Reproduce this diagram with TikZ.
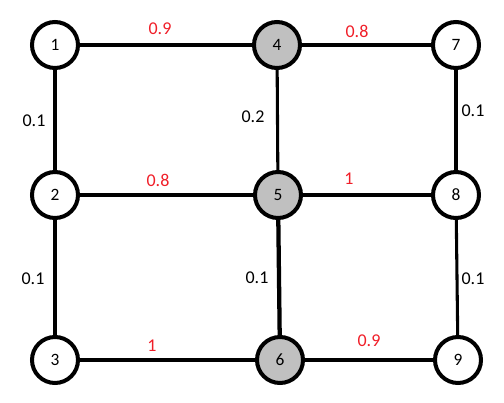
\documentclass[tikz,border=0pt]{standalone}
\usepackage{fontspec}
\setmainfont{Carlito}
\definecolor{wred}{RGB}{240,30,40}
\definecolor{ngray}{RGB}{192,192,192}
\begin{document}
\begin{tikzpicture}[x=0.75pt,y=-0.75pt,
  vert/.style={circle,draw=black,line width=3pt,minimum size=34.5pt,inner sep=0pt,fill=white,font=\fontsize{13}{15}\selectfont},
  gvert/.style={vert,fill=ngray},
  heavy/.style={line width=3.2pt},
  light/.style={line width=2.3pt},
  wlab/.style={font=\fontsize{13.5}{15}\selectfont,text=black},
  rlab/.style={wlab,text=wred}]
\useasboundingbox (0,0) rectangle (504,403);
\node[vert] (n1) at (55,45) {1};
\node[gvert] (n4) at (277,45) {4};
\node[vert] (n7) at (456,45) {7};
\node[vert] (n2) at (55,195) {2};
\node[gvert] (n5) at (278,195) {5};
\node[vert] (n8) at (456,195) {8};
\node[vert] (n3) at (55,360) {3};
\node[gvert] (n6) at (280,360) {6};
\node[vert] (n9) at (458,360) {9};
\draw[heavy] (n1) -- (n4);
\draw[light] (n4) -- (n7);
\draw[light] (n1) -- (n2);
\draw[light] (n4) -- (n5);
\draw[light] (n7) -- (n8);
\draw[heavy] (n2) -- (n5);
\draw[heavy] (n5) -- (n8);
\draw[heavy] (n2) -- (n3);
\draw[heavy] (n5) -- (n6);
\draw[light] (n8) -- (n9);
\draw[heavy] (n3) -- (n6);
\draw[light] (n6) -- (n9);
\node[rlab] (l14) at (160,29) {0.9};
\node[rlab] (l47) at (357,31) {0.8};
\node[wlab] (l12) at (34,121) {0.1};
\node[wlab] (l45) at (253,117) {0.2};
\node[wlab] (l78) at (473,111) {0.1};
\node[rlab] (l25) at (158,180) {0.8};
\node[rlab] (l58) at (349,179) {1};
\node[wlab] (l23) at (33,279) {0.1};
\node[wlab] (l56) at (257,278) {0.1};
\node[wlab] (l89) at (473,279) {0.1};
\node[rlab] (l36) at (152,346) {1};
\node[rlab] (l69) at (369,341) {0.9};
\end{tikzpicture}
\end{document}
